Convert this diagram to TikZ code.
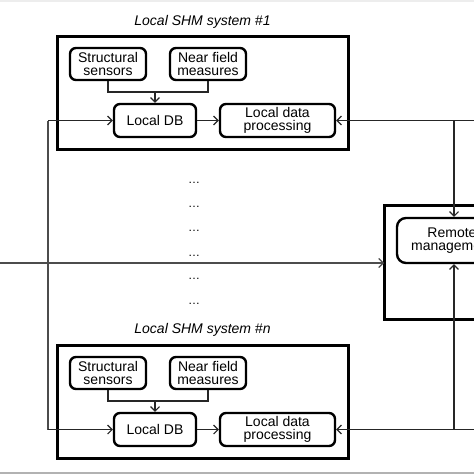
\documentclass[tikz,border=0pt]{standalone}
\usepackage{fontspec}
\setmainfont{Liberation Sans}
\usetikzlibrary{arrows.meta,calc}
\tikzset{
  x=1pt,y=-1pt,
  outerbox/.style={draw=black,line width=3pt},
  inbox/.style={draw=black,line width=2.4pt,rounded corners=6pt,align=center,inner sep=0pt,
    font=\fontsize{14}{12.8}\selectfont},
  conn/.style={draw=black!85,line width=1.1pt},
  bus/.style={draw=black!70,line width=1.6pt},
  arr/.style={-{Straight Barb[length=4.5pt,width=9pt,line width=1.1pt]}},
  ttl/.style={font=\fontsize{14}{14}\selectfont\itshape},
  dots/.style={font=\fontsize{12}{12}\selectfont,anchor=base,inner sep=0pt}
}
\begin{document}
\begin{tikzpicture}
\useasboundingbox (0,0) rectangle (474,474);
\clip (0,0) rectangle (474,474);
\fill[black!7] (0,0) rectangle (474,1.5);
\fill[black!30] (0,471.8) rectangle (474,474);
% system 1
\node[ttl] (t1) at (202.5,22) {Local SHM system \#1};
\draw[outerbox] (57,36) rectangle (348,149);
\node[inbox,minimum width=76pt,minimum height=32pt] (ss1) at (108,64) {Structural\\sensors};
\node[inbox,minimum width=76pt,minimum height=32pt] (nf1) at (208,64) {Near field\\measures};
\node[inbox,minimum width=82pt,minimum height=33pt] (db1) at (155,120.5) {Local DB};
\node[inbox,minimum width=115pt,minimum height=33pt] (lp1) at (277.5,120.5) {Local data\\processing};
\coordinate (j1) at (155,92);
\draw[conn] (ss1.south) |- (j1) -| (nf1.south);
\draw[conn,arr] (j1) -- (db1.north);
\draw[conn,arr] (db1.east) -- (lp1.west);
% system n
\node[ttl] (tn) at (202.5,330) {Local SHM system \#\textit{n}};
\draw[outerbox] (57,345) rectangle (348,458);
\node[inbox,minimum width=76pt,minimum height=32pt] (ssn) at (108,373) {Structural\\sensors};
\node[inbox,minimum width=76pt,minimum height=32pt] (nfn) at (208,373) {Near field\\measures};
\node[inbox,minimum width=82pt,minimum height=33pt] (dbn) at (155,429.5) {Local DB};
\node[inbox,minimum width=115pt,minimum height=33pt] (lpn) at (277.5,429.5) {Local data\\processing};
\coordinate (jn) at (155,401);
\draw[conn] (ssn.south) |- (jn) -| (nfn.south);
\draw[conn,arr] (jn) -- (dbn.north);
\draw[conn,arr] (dbn.east) -- (lpn.west);
% dots
\foreach \yy [count=\i] in {183,207,231,256,279,304}
  \node[dots] (d\i) at (194,\yy) {…};
% remote
\draw[outerbox] (384,205) rectangle (540,319);
\node[inbox,rounded corners=9pt,minimum width=110pt,minimum height=45pt] (rm) at (452,240.5) {Remote\\management};
\coordinate (outer) at (384,263);
% left bus
\coordinate (L1) at (48,120.5);
\coordinate (Ln) at (48,429.5);
\draw[bus] (L1) -- (Ln);
\draw[conn,arr] (L1) -- (db1.west);
\draw[conn,arr] (Ln) -- (dbn.west);
\coordinate (in) at (0,263);
\draw[bus,arr] (in) -- (outer);
% right side
\coordinate (E1) at (480,120.5);
\coordinate (En) at (480,429.5);
\coordinate (R1) at (454,120.5);
\coordinate (Rn) at (454,429.5);
\draw[conn,arr] (E1) -- (lp1.east);
\draw[conn,arr] (En) -- (lpn.east);
\draw[conn,arr] (R1) -- (rm.north -| R1);
\draw[conn,arr] (Rn) -- (rm.south -| Rn);
\end{tikzpicture}
\end{document}
